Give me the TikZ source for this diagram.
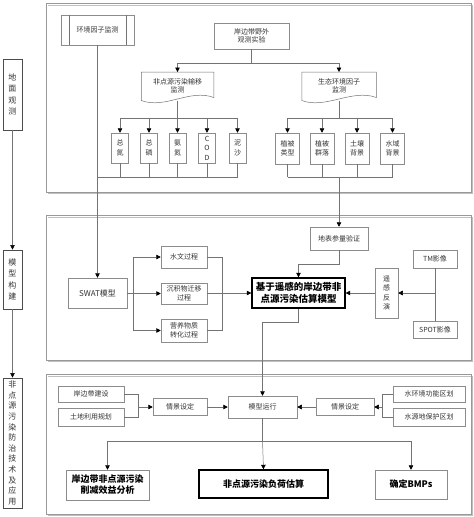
\documentclass[tikz,border=0pt]{standalone}
\usepackage{fontspec}
\setmainfont{Noto Sans CJK SC}
\usetikzlibrary{arrows.meta}

\tikzset{
  frame/.style={draw=black!40, line width=0.6pt},
  box/.style={draw=black!45, line width=0.5pt, fill=white, align=center, inner sep=0.5pt,
    text=black!80, font=\fontsize{7}{8.5}\selectfont},
  sidebox/.style={draw=black!70, line width=0.9pt, fill=white, align=center, inner sep=0.5pt,
    text=black!80, font=\fontsize{8}{11.2}\selectfont, minimum width=19pt},
  vbox/.style={box, font=\fontsize{7}{9.5}\selectfont},
  mainbox/.style={draw=black, line width=1.4pt, fill=white, align=center, inner sep=0.5pt,
    font=\fontsize{9.5}{11.5}\selectfont\bfseries},
  resbox/.style={box, text=black, font=\fontsize{9}{11}\selectfont\bfseries},
  link/.style={draw=black!55, line width=0.5pt},
  arr/.style={link, -{Triangle[color=black,length=4.5pt,width=4.5pt]}},
}

\begin{document}
\begin{tikzpicture}[x=1pt, y=-1pt]
  \useasboundingbox (0,0) rectangle (474,517);

  % the three stage frames, with a light shadow
  \foreach \top/\bot in {3/192, 215/360, 374/514}{
    \draw[black!25, line width=1pt] (48,\top+2) -- (472.5,\top+2) -- (472.5,\bot+1.5) -- (48,\bot+1.5);
    \draw[frame] (46,\top) rectangle (471,\bot);
  }

  % left column: the stages
  \node[sidebox, minimum height=71pt] (obs) at (12.5,94.5) {地\\面\\观\\测};
  \node[sidebox, minimum height=59pt] (build) at (12.5,279.5) {模\\型\\构\\建};
  \node[sidebox, minimum height=130pt, font=\fontsize{8}{10.6}\selectfont] (apply) at (12.5,443)
    {非\\点\\源\\污\\染\\防\\治\\技\\术\\及\\应\\用};
  \draw[arr] (obs.south) -- (build.north);
  \draw[arr] (build.south) -- (apply.north);

  % ground observation
  \node[box, minimum width=73pt, minimum height=30pt] (env) at (97.5,30) {环境因子监测};
  \draw[link] ([xshift=8pt]env.north west) -- ([xshift=8pt]env.south west);
  \draw[link] ([xshift=-8pt]env.north east) -- ([xshift=-8pt]env.south east);
  \node[box, minimum width=75pt, minimum height=26pt] (field) at (251.5,36) {岸边带野外\\观测实验};

  \node[box, draw=none, minimum width=72pt, minimum height=28pt, anchor=north] (npsmon) at (177.5,72)
    {非点源污染输移\\监测\vphantom{g}};
  \node[box, draw=none, minimum width=74pt, minimum height=28pt, anchor=north] (ecomon) at (339,72)
    {生态环境因子\\监测\vphantom{g}};
  \foreach \d in {npsmon, ecomon}{
    \draw[link] (\d.south west) -- (\d.north west) -- (\d.north east) -- ([yshift=3pt]\d.south east)
      .. controls +(-24,-9) and +(24,9) .. (\d.south west);
  }
  \draw[link] (field.south) -- (251.5,63);
  \draw[link] (177.5,63) -- (339,63);
  \draw[arr] (177.5,63) -- (npsmon.north);
  \draw[arr] (339,63) -- (ecomon.north);

  % water quality items
  \foreach \name/\x/\txt in {tn/120/总\\氮, tp/149/总\\磷, an/177.5/氨\\氮, cod/207/C\\O\\D, sand/237.5/泥\\沙}{
    \node[vbox, minimum width=17pt, minimum height=30pt] (\name) at (\x,148) {\txt};
    \draw[arr] (\x,118) -- (\name.north);
    \draw[link] (\name.south) -- (\x,177);
  }
  \draw[link] (npsmon.south) -- (177.5,118);
  \draw[link] (120,118) -- (237.5,118);
  \draw[link] (97.5,177) -- (237.5,177);

  % ecological items
  \foreach \name/\x/\txt in {veg/287.5/植被\\类型, comm/322/植被\\群落, soil/357/土壤\\背景, wat/392.5/水域\\背景}{
    \node[vbox, minimum width=24pt, minimum height=31pt] (\name) at (\x,148.5) {\txt};
    \draw[arr] (\x,118) -- (\name.north);
    \draw[link] (\name.south) -- (\x,177);
  }
  \draw[link] (ecomon.south) -- (339,118);
  \draw[link] (287.5,118) -- (392.5,118);
  \draw[link] (287.5,177) -- (392.5,177);

  % model building
  \node[box, minimum width=58pt, minimum height=23pt] (verify) at (339,238.5) {地表参量验证};
  \node[mainbox, minimum width=93pt, minimum height=30pt] (model) at (298.5,293)
    {基于遥感的岸边带非\\点源污染估算模型};
  \node[vbox, minimum width=23pt, minimum height=50pt] (rs) at (386.5,293) {遥\\感\\反\\演};
  \node[box, minimum width=44pt, minimum height=18pt] (tm) at (435,259) {TM影像};
  \node[box, minimum width=44pt, minimum height=17pt] (spot) at (435,329.5) {SPOT影像};
  \node[box, font=\fontsize{8}{9}\selectfont, minimum width=59pt, minimum height=30pt] (swat) at (97.5,293) {SWAT模型};
  \node[box, minimum width=46pt, minimum height=22pt] (hydro) at (184,257) {水文过程};
  \node[box, minimum width=46pt, minimum height=21pt] (sed) at (184,293.5) {沉积物迁移\\过程};
  \node[box, minimum width=46pt, minimum height=23pt] (nutr) at (184,330.5) {营养物质\\转化过程};

  \draw[arr] (339,177) -- (verify.north);
  \draw[arr] (env.south) -- (swat.north);
  \draw[arr] (verify.south) -- (339,264) -- (298.5,264) -- (model.north);
  \draw[link] (tm.south) -- (spot.north);
  \draw[arr] (435,293) -- (rs.east);
  \draw[arr] (rs.west) -- (model.east);
  \draw[link] (swat.east) -- (133,293);
  \draw[link] (133,257) -- (133,330.5);
  \foreach \p in {hydro, sed, nutr}{
    \draw[arr] (133,0 |- \p.west) -- (\p.west);
    \draw[link] (\p.east) -- (222,0 |- \p.east);
  }
  \draw[link] (222,257) -- (222,330.5);
  \draw[arr] (222,293) -- (model.west);

  % prevention and application
  \node[box, minimum width=69pt, minimum height=22pt] (run) at (262.5,407) {模型运行};
  \node[box, minimum width=54pt, minimum height=17pt] (sceneL) at (180,407) {情景设定};
  \node[box, minimum width=66pt, minimum height=16pt] (shore) at (91,394) {岸边带建设};
  \node[box, minimum width=66pt, minimum height=18pt] (land) at (91,417) {土地利用规划};
  \node[box, minimum width=58pt, minimum height=17pt] (sceneR) at (345,407) {情景设定};
  \node[box, minimum width=72pt, minimum height=16pt] (func) at (429,394) {水环境功能区划};
  \node[box, minimum width=72pt, minimum height=18pt] (source) at (429,417) {水源地保护区划};
  \node[resbox, minimum width=83pt, minimum height=30pt] (benefit) at (107.5,485) {岸边带非点源污染\\削减效益分析};
  \node[mainbox, font=\fontsize{9}{11}\selectfont\bfseries, minimum width=129pt, minimum height=28pt] (load) at (263.5,484)
    {非点源污染负荷估算};
  \node[resbox, minimum width=72pt, minimum height=29pt] (bmp) at (411,484.5) {确定BMPs};

  \draw[arr] (model.south) -- (298.5,322) -- (262.5,322) -- (run.north);
  \draw[link] (shore.east) -- (138,394) -- (138,417) -- (land.east);
  \draw[arr] (138,407) -- (sceneL.west);
  \draw[arr] (sceneL.east) -- (run.west);
  \draw[link] (func.west) -- (382,394) -- (382,417) -- (source.west);
  \draw[arr] (382,407) -- (sceneR.east);
  \draw[arr] (sceneR.west) -- (run.east);
  \draw[link] (run.south) -- (262.5,441);
  \draw[link] (107.5,441) -- (411,441);
  \draw[arr] (107.5,441) -- (benefit.north);
  \draw[arr] (262.5,441) -- (load.north);
  \draw[arr] (411,441) -- (bmp.north);
\end{tikzpicture}
\end{document}
